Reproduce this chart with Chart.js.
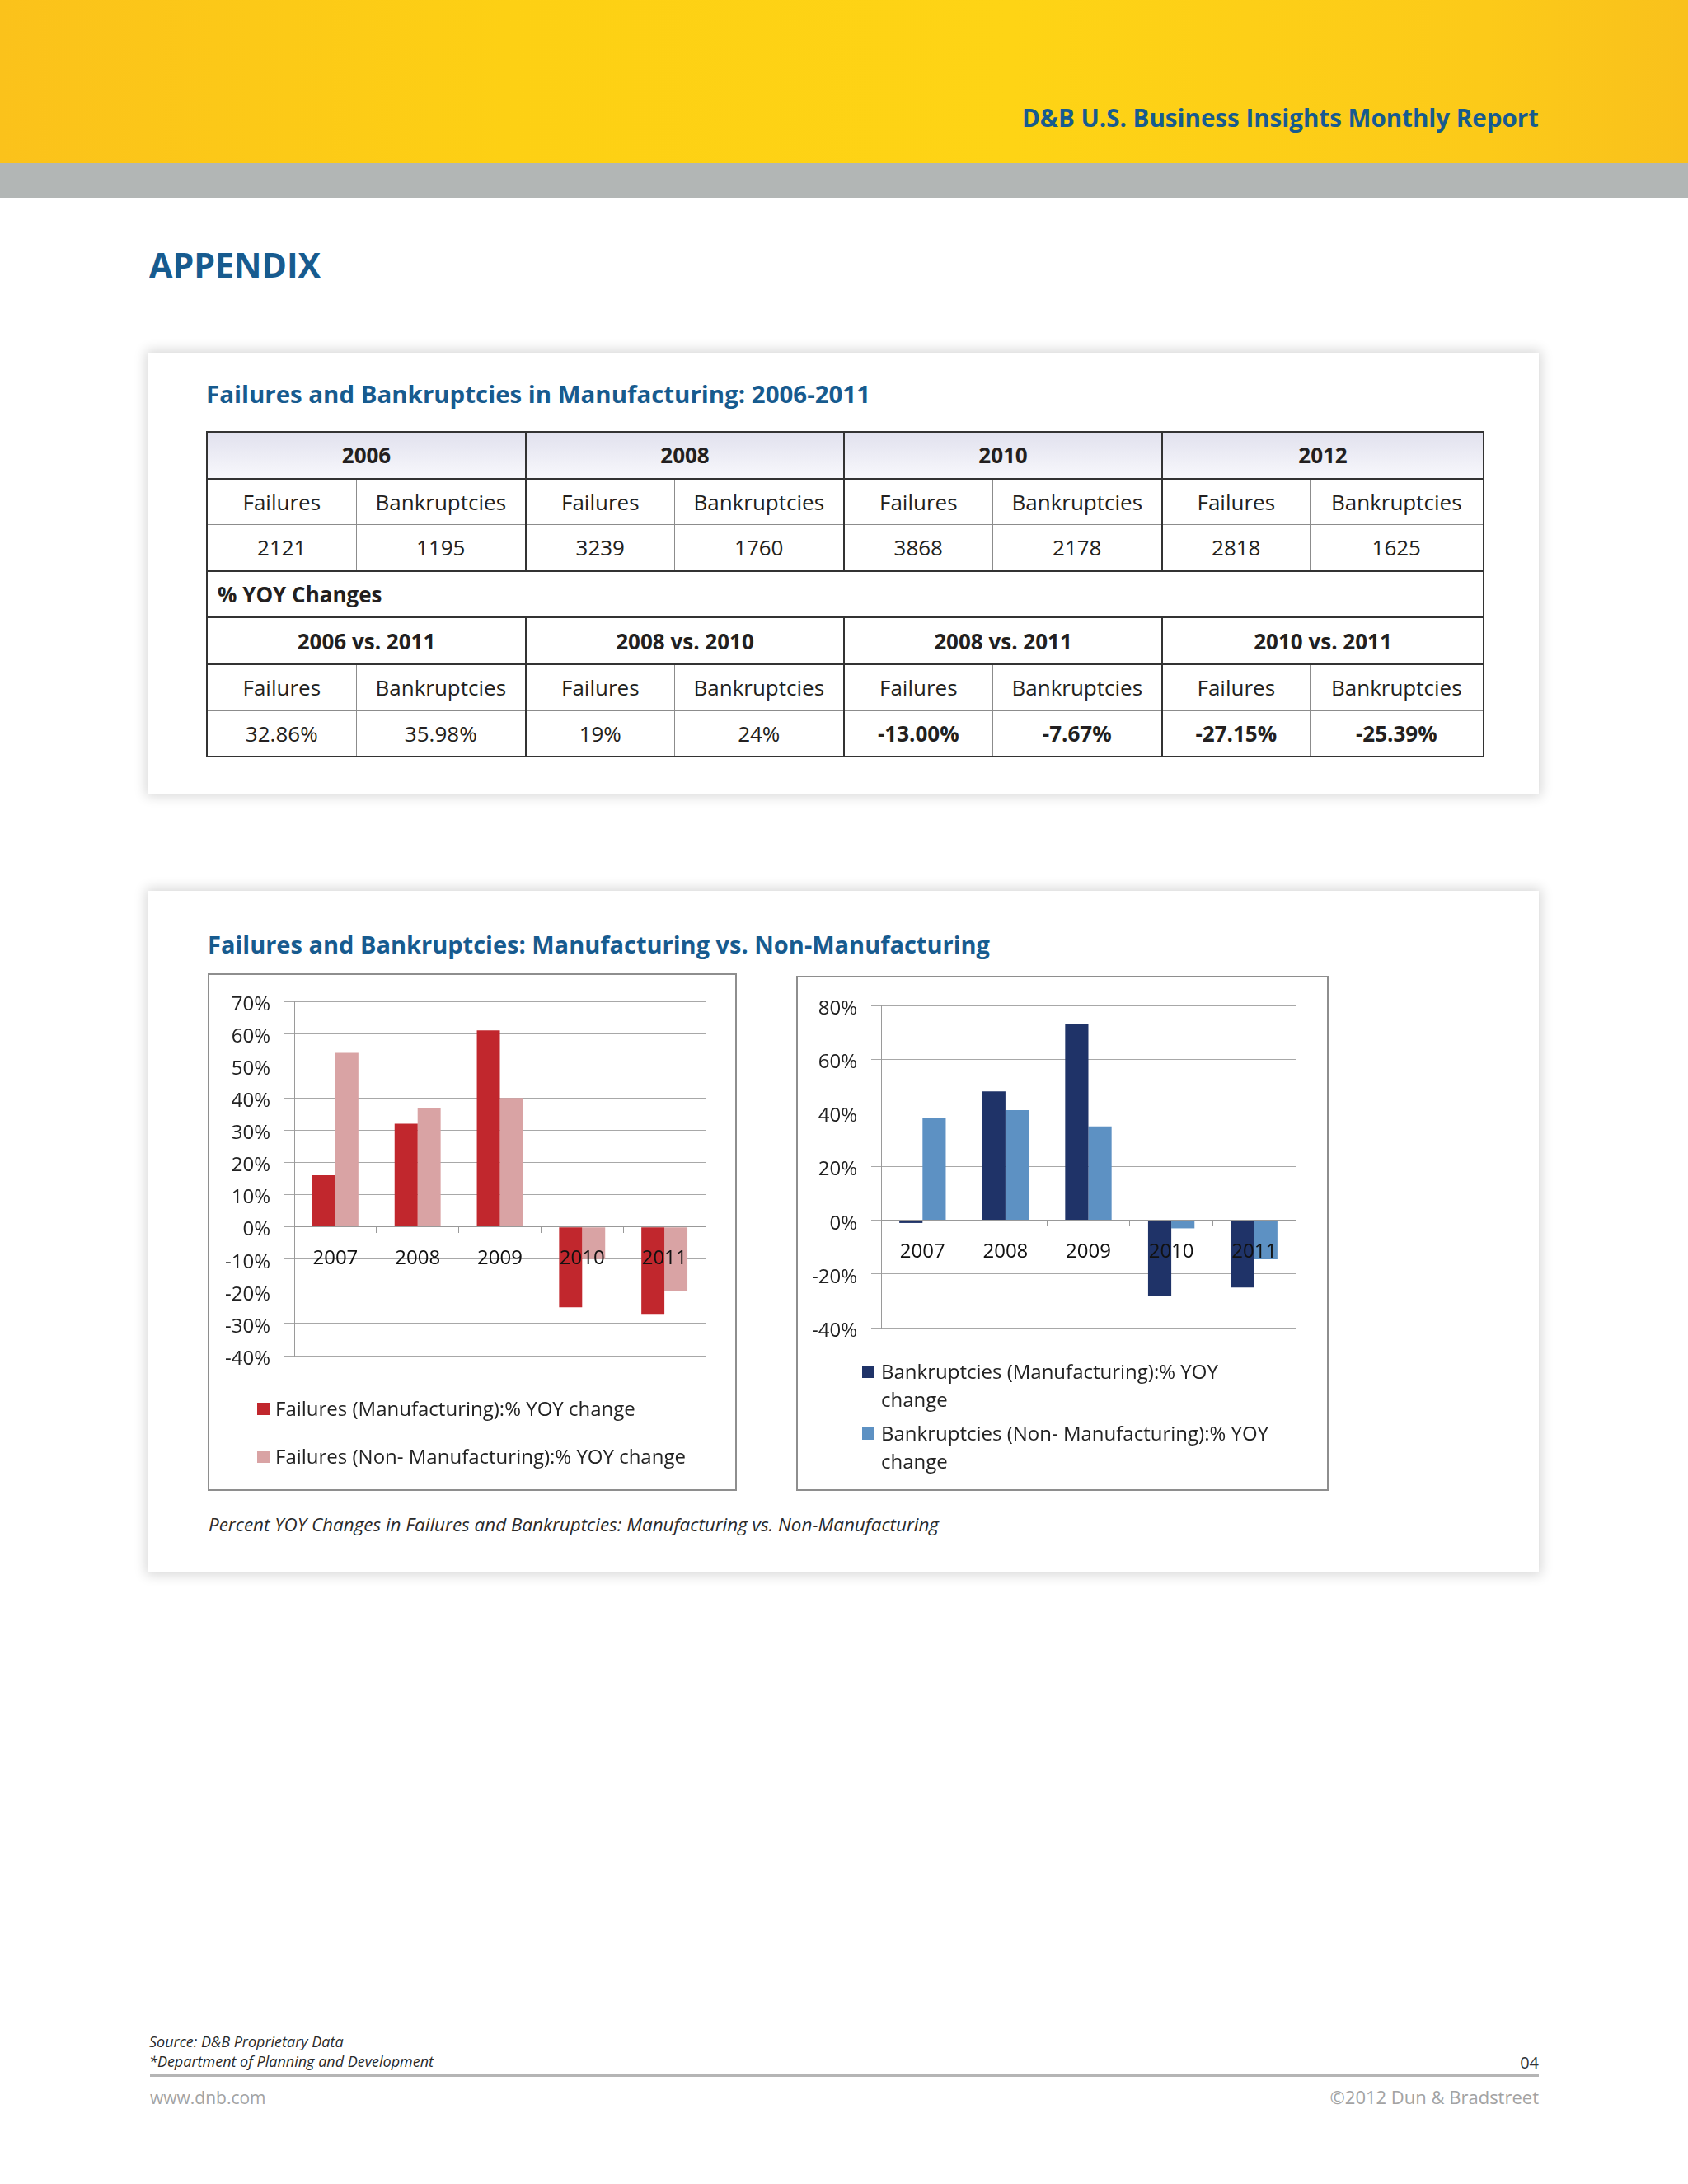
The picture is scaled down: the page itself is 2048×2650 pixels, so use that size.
<!DOCTYPE html>
<html>
<head>
<meta charset="utf-8">
<title>D&amp;B U.S. Business Insights - Appendix</title>
<script src="https://cdn.jsdelivr.net/npm/chart.js@4.4.0/dist/chart.umd.min.js"></script>
<style>
  body { margin:0; width:2048px; height:2650px; position:relative; overflow:hidden; background:#fff;
         font-family:"Open Sans", sans-serif; color:#231f20; }
  .abs { position:absolute; white-space:nowrap; }
  #topbar { left:0; top:0; width:2048px; height:198px;
            background:linear-gradient(90deg,#fbc21b 0%,#fdd014 30%,#fed415 60%,#fcca19 88%,#f9c11c 100%); }
  #grayband { left:0; top:198px; width:2048px; height:42px; background:#b2b6b5; }
  #reportTitle { right:181px; top:123px; height:40px; line-height:40px; font-size:30px; font-weight:700;
                 color:#175b8f; transform-origin:right center; }
  #appendix { left:181px; top:296px; height:50px; line-height:50px; font-size:42px; font-weight:700;
              color:#175b8f; transform-origin:left center; }
  .card { position:absolute; left:180px; width:1687px; background:#fff;
          box-shadow:0 0 14px 3px rgba(0,0,0,0.16); }
  #card1 { top:428px; height:535px; }
  #card2 { top:1081px; height:827px; }
  .ctitle { font-size:28px; font-weight:700; color:#175b8f; height:40px; line-height:40px; transform-origin:left center; }
  #title1 { left:250px; top:458px; }
  #title2 { left:252px; top:1126px; }

  #dataTable { position:absolute; left:250px; top:523px; width:1550px; border-collapse:collapse;
               table-layout:fixed; border:2px solid #333; }
  #dataTable td { border:1.5px solid #8c8c8c; height:54.6px; padding:0; text-align:center; vertical-align:middle;
                  font-size:26px; line-height:1; color:#231f20; }
  #dataTable td.g { border-left:2px solid #333; }
  #dataTable tr.dk td { border-bottom:2px solid #333; }
  #dataTable tr.head td { font-weight:700; background:linear-gradient(#e1e1ee,#f8f8fc); }
  #dataTable tr.sub td { font-weight:700; }
  #dataTable td.yoy { text-align:left; padding-left:12px; font-weight:700; }
  #dataTable td.neg { font-weight:700; }

  .cbox { position:absolute; box-sizing:border-box; border:2px solid #8e8e8e; background:#fff; }
  #box1 { left:252px; top:1181px; width:642px; height:628px; }
  #box2 { left:966px; top:1184px; width:646px; height:625px; }
  .cbox canvas { position:absolute; left:0; top:0; }

  .legend { position:absolute; font-size:24px; color:#222; }
  .lg-item { display:flex; align-items:flex-start; }
  .lg-box { flex:none; width:15px; height:15px; margin-top:9.5px; }
  .lg-text { line-height:34px; }
  #legend1 { left:312px; top:1692px; }
  #legend1 .lg-item { margin-bottom:24px; }
  #legend1 .lg-text { margin-left:7px; white-space:nowrap; }
  #legend2 { left:1046px; top:1647px; }
  #legend2 .lg-item { margin-bottom:7px; }
  #legend2 .lg-text { margin-left:8px; width:484px; white-space:normal; }

  #caption { left:253px; top:1835px; height:30px; line-height:30px; font-size:21px; font-style:italic;
             color:#2a2a2a; transform-origin:left center; }
  .foot { font-size:18px; font-style:italic; color:#2a2a2a; height:24px; line-height:24px; }
  #src { left:181px; top:2465px; }
  #dept { left:181px; top:2489px; }
  #pageNo { right:181px; top:2490px; height:26px; line-height:26px; font-size:20px; color:#333; }
  #rule { left:182px; top:2517px; width:1685px; height:3px; background:#b5b5b5; }
  #web { left:182px; top:2530px; height:30px; line-height:30px; font-size:21px; color:#a3a3a3; }
  #copy { right:181px; top:2529px; height:30px; line-height:30px; font-size:22px; color:#a3a3a3; }
</style>
</head>
<body>

<div id="topbar" class="abs"></div>
<div id="grayband" class="abs"></div>
<div id="reportTitle" class="abs">D&amp;B U.S. Business Insights Monthly Report</div>

<div id="appendix" class="abs">APPENDIX</div>

<div id="card1" class="card"></div>
<div id="title1" class="abs ctitle">Failures and Bankruptcies in Manufacturing: 2006-2011</div>
<table id="dataTable"></table>

<div id="card2" class="card"></div>
<div id="title2" class="abs ctitle">Failures and Bankruptcies: Manufacturing vs. Non-Manufacturing</div>

<div id="box1" class="cbox"><canvas id="failChart" width="638" height="624"></canvas></div>
<div id="box2" class="cbox"><canvas id="bankChart" width="642" height="621"></canvas></div>
<div id="legend1" class="legend"></div>
<div id="legend2" class="legend"></div>

<div id="caption" class="abs">Percent YOY Changes in Failures and Bankruptcies: Manufacturing vs. Non-Manufacturing</div>

<div id="src" class="abs foot">Source: D&amp;B Proprietary Data</div>
<div id="dept" class="abs foot">*Department of Planning and Development</div>
<div id="pageNo" class="abs">04</div>
<div id="rule" class="abs"></div>
<div id="web" class="abs">www.dnb.com</div>
<div id="copy" class="abs">&copy;2012 Dun &amp; Bradstreet</div>

<script>
// table values
var tableYears = ['2006', '2008', '2010', '2012'];
var failureCounts = [2121, 3239, 3868, 2818];
var bankruptcyCounts = [1195, 1760, 2178, 1625];
var yoyPeriods = ['2006 vs. 2011', '2008 vs. 2010', '2008 vs. 2011', '2010 vs. 2011'];
var yoyFailures = ['32.86%', '19%', '-13.00%', '-27.15%'];
var yoyBankruptcies = ['35.98%', '24%', '-7.67%', '-25.39%'];

// chart values (% YOY change)
var chartYears = ['2007', '2008', '2009', '2010', '2011'];
var failMfg = [16, 32, 61, -25, -27];
var failNonMfg = [54, 37, 40, -10, -20];
var bankMfg = [-1, 48, 73, -28, -25];
var bankNonMfg = [38, 41, 35, -3, -14.5];

var failLabels = ['Failures (Manufacturing):% YOY change', 'Failures (Non- Manufacturing):% YOY change'];
var bankLabels = ['Bankruptcies (Manufacturing):% YOY change', 'Bankruptcies (Non- Manufacturing):% YOY change'];

var colWidths = [181, 206, 180, 206, 180, 206, 179, 211];

function BuildTable()
{
    var t = document.getElementById('dataTable');
    var html = '<colgroup>';
    colWidths.forEach(function(w){ html += '<col style="width:' + w + 'px">'; });
    html += '</colgroup>';

    html += '<tr class="head dk">';
    tableYears.forEach(function(y, i){ html += '<td colspan="2"' + (i ? ' class="g"' : '') + '>' + y + '</td>'; });
    html += '</tr><tr>';
    tableYears.forEach(function(y, i){
        html += '<td' + (i ? ' class="g"' : '') + '>Failures</td><td>Bankruptcies</td>';
    });
    html += '</tr><tr class="dk">';
    tableYears.forEach(function(y, i){
        html += '<td' + (i ? ' class="g"' : '') + '>' + failureCounts[i] + '</td><td>' + bankruptcyCounts[i] + '</td>';
    });
    html += '</tr><tr class="dk"><td colspan="8" class="yoy">% YOY Changes</td></tr>';

    html += '<tr class="sub dk">';
    yoyPeriods.forEach(function(p, i){ html += '<td colspan="2"' + (i ? ' class="g"' : '') + '>' + p + '</td>'; });
    html += '</tr><tr>';
    yoyPeriods.forEach(function(p, i){
        html += '<td' + (i ? ' class="g"' : '') + '>Failures</td><td>Bankruptcies</td>';
    });
    html += '</tr><tr class="dk">';
    yoyPeriods.forEach(function(p, i){
        var f = yoyFailures[i], b = yoyBankruptcies[i];
        var fc = (i ? 'g' : '') + (f.charAt(0) === '-' ? ' neg' : '');
        var bc = (b.charAt(0) === '-' ? 'neg' : '');
        html += '<td class="' + fc + '">' + f + '</td><td class="' + bc + '">' + b + '</td>';
    });
    html += '</tr>';
    t.innerHTML = html;
}

function FitWidth(id, target)
{
    var el = document.getElementById(id);
    var w = el.getBoundingClientRect().width;
    el.style.transform = 'scaleX(' + (target / w) + ')';
}

function MakeChart(canvasId, labels, values, colours, yMin, yMax, yStep, pad, axisWidth)
{
    var canvas = document.getElementById(canvasId).getContext('2d');
    return new Chart(canvas, {
        type: 'bar',
        data: {
            labels: chartYears,
            datasets: [{
                label: labels[0],
                data: values[0],
                backgroundColor: colours[0],
                categoryPercentage: 0.56,
                barPercentage: 1.0
            }, {
                label: labels[1],
                data: values[1],
                backgroundColor: colours[1],
                categoryPercentage: 0.56,
                barPercentage: 1.0
            }]
        },
        options: {
            responsive: false,
            animation: false,
            devicePixelRatio: 1,
            layout: { padding: pad },
            plugins: { legend: { display: false }, tooltip: { enabled: false } },
            scales: {
                x: {
                    position: { y: 0 },
                    offset: true,
                    // year labels sit on top of the negative bars, like the original
                    grid: { offset: true, drawOnChartArea: false, drawTicks: true, tickLength: 7, color: '#999', z: 1 },
                    border: { display: true, color: '#999', width: 1, z: 1 },
                    ticks: { color: '#111', font: { size: 24 }, padding: 17, maxRotation: 0, autoSkip: false, z: 1 }
                },
                y: {
                    min: yMin,
                    max: yMax,
                    afterFit: function(scale) { scale.width = axisWidth; },
                    grid: { color: '#a8a8a8', lineWidth: 1, tickLength: 12 },
                    border: { display: true, color: '#9a9a9a', width: 1 },
                    ticks: {
                        stepSize: yStep,
                        padding: 17,
                        labelOffset: 4,
                        color: '#222',
                        font: { size: 24 },
                        callback: function(v) { return v + '%'; }
                    }
                }
            }
        }
    });
}

function BuildLegend(elId, chart)
{
    var html = '';
    chart.data.datasets.forEach(function(ds){
        html += '<div class="lg-item"><span class="lg-box" style="background:' + ds.backgroundColor + '"></span>'
              + '<span class="lg-text">' + ds.label + '</span></div>';
    });
    document.getElementById(elId).innerHTML = html;
}

Chart.defaults.font.family = '"Open Sans", sans-serif';
Chart.defaults.font.size = 24;

BuildTable();

var failChart = MakeChart('failChart', failLabels, [failMfg, failNonMfg], ['#c1272d', '#d9a3a4'],
    -40, 70, 10, { left: 0, top: 32, right: 36, bottom: 162 }, 103);
var bankChart = MakeChart('bankChart', bankLabels, [bankMfg, bankNonMfg], ['#1f3368', '#5d91c3'],
    -40, 80, 20, { left: 0, top: 34, right: 38, bottom: 196 }, 101);

BuildLegend('legend1', failChart);
BuildLegend('legend2', bankChart);

FitWidth('reportTitle', 627);
FitWidth('appendix', 208);
FitWidth('title1', 806);
FitWidth('title2', 949);
FitWidth('caption', 886);
</script>
</body>
</html>
